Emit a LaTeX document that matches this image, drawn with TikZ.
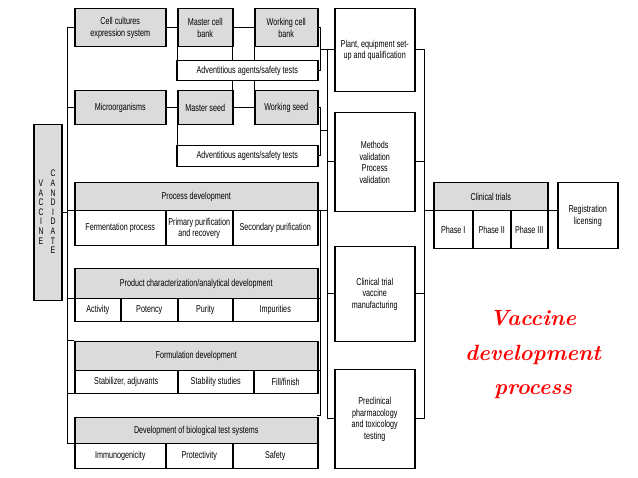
\documentclass[tikz,border=0pt]{standalone}
\usepackage{fontspec}
\newfontfamily\lblfont[FakeStretch=0.72]{Liberation Sans}
\begin{document}
\begin{tikzpicture}[x=1pt,y=-1pt,
  b/.style={draw,line width=1.5pt,inner sep=0pt,anchor=north west,align=center,font=\lblfont\fontsize{10}{11.5}\selectfont},
  g/.style={fill=black!14},
  w/.style={fill=white},
  ln/.style={line width=0.8pt},
  title/.style={text=red,font=\fontsize{22}{25}\selectfont\itshape\bfseries}]
\useasboundingbox (0,0) rectangle (638,478);
\newcommand\bx[7]{\node[b,#6,minimum width=#4pt,minimum height=#5pt] (#1) at (#2,#3) {#7};}
% connectors first
\draw[ln] (67,27)--(67,443);
\foreach \yy in {27,107,210,298,340,393,443} \draw[ln] (67,\yy)--(74,\yy);
\draw[ln] (61,212)--(67,212);
\draw[ln] (165,27)--(177,27) (232,27)--(254,27);
\draw[ln] (165,107)--(177,107) (232,107)--(254,107);
\draw[ln] (177,46)--(177,80) (232,46)--(232,90) (254,46)--(254,90);
\draw[ln] (177,124)--(177,166);
\draw[ln] (317,27)--(320,27)--(320,70)--(317,70);
\draw[ln] (317,107)--(320,107)--(320,155)--(317,155);
\draw[ln] (317,210)--(320,210)--(320,415)--(317,415);
\draw[ln] (317,298)--(320,298) (317,370)--(320,370);
\draw[ln] (320,49)--(334,49) (320,130)--(327,130);
\draw[ln] (327,49)--(327,418);
\foreach \yy in {161,293,418} \draw[ln] (327,\yy)--(334,\yy);
\draw[ln] (320,210)--(327,210);
\draw[ln] (414,49)--(424,49)--(424,418)--(414,418) (414,161)--(424,161) (414,293)--(424,293);
\draw[ln] (424,210)--(433,210) (547,210)--(557,210);
% boxes
\bx{cc}{74}{8}{91}{38}{g}{Cell cultures\\expression system}
\bx{mcb}{177}{8}{55}{38}{g}{Master cell\\bank}
\bx{wcb}{254}{8}{63}{38}{g}{Working cell\\bank}
\bx{adv1}{176}{60}{141}{20}{w}{Adventitious agents/safety tests}
\bx{mo}{74}{90}{91}{34}{g}{Microorganisms}
\bx{ms}{177}{90}{55}{34}{g}{Master seed}
\bx{ws}{254}{90}{63}{34}{g}{Working seed}
\bx{adv2}{176}{145}{141}{21}{w}{Adventitious agents/safety tests}
\bx{pd}{74}{182}{243}{28}{g}{Process development}
\bx{fp}{74}{210}{91}{35}{w}{Fermentation process}
\bx{pp}{165}{210}{67}{35}{w}{Primary purification\\and recovery}
\bx{sp}{232}{210}{85}{35}{w}{Secondary purification}
\bx{pc}{74}{268}{243}{30}{g}{Product characterization/analytical development}
\bx{act}{74}{298}{46}{23}{w}{Activity}
\bx{pot}{120}{298}{57}{23}{w}{Potency}
\bx{pur}{177}{298}{55}{23}{w}{Purity}
\bx{imp}{232}{298}{85}{23}{w}{Impurities}
\bx{fd}{74}{341}{243}{29}{g}{Formulation development}
\bx{stab}{74}{370}{103}{23}{w}{Stabilizer, adjuvants}
\bx{sts}{177}{370}{76}{23}{w}{Stability studies}
\bx{fill}{253}{370}{64}{23}{w}{Fill/finish}
\bx{bt}{74}{417}{243}{26}{g}{Development of biological test systems}
\bx{imm}{74}{443}{91}{25}{w}{Immunogenicity}
\bx{prot}{165}{443}{67}{25}{w}{Protectivity}
\bx{saf}{232}{443}{85}{25}{w}{Safety}
\bx{vc}{33}{124}{28}{176}{g}{}
\node[font=\lblfont\fontsize{9.5}{9.6}\selectfont,align=center] at (41,212) {V\\A\\C\\C\\I\\N\\E};
\node[font=\lblfont\fontsize{9.5}{9.6}\selectfont,align=center] at (53,212) {C\\A\\N\\D\\I\\D\\A\\T\\E};
\bx{plant}{334}{8}{80}{83}{w}{Plant, equipment set-\\up and qualification}
\bx{meth}{334}{112}{80}{99}{w}{Methods\\validation\\Process\\validation}
\bx{ctm}{334}{246}{80}{95}{w}{Clinical trial\\vaccine\\manufacturing}
\bx{pre}{334}{369}{80}{99}{w}{Preclinical\\pharmacology\\and toxicology\\testing}
\bx{ct}{433}{182}{114}{28}{g}{Clinical trials}
\bx{p1}{433}{210}{39}{38}{w}{Phase I}
\bx{p2}{472}{210}{38}{38}{w}{Phase II}
\bx{p3}{510}{210}{37}{38}{w}{Phase III}
\bx{reg}{557}{182}{60}{66}{w}{Registration\\licensing}
\node[title] (t1) at (533,318) {Vaccine};
\node[title] (t2) at (533,355) {development};
\node[title] (t3) at (533,392) {process};
\end{tikzpicture}
\end{document}
